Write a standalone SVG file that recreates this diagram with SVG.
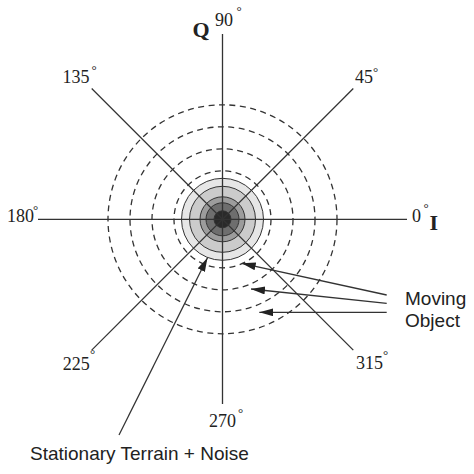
<svg xmlns="http://www.w3.org/2000/svg" width="474" height="474" viewBox="0 0 474 474">
<style>
.ax{stroke:#333;stroke-width:1.3;fill:none}
.ds{stroke:#333;stroke-width:1.3;fill:none;stroke-dasharray:6 4.5}
.rg{stroke:#333;stroke-width:1}
.num{font-family:"Liberation Serif","Times New Roman",serif;font-size:18px;fill:#222}
.deg{font-size:13px}
.bl{font-family:"Liberation Serif","Times New Roman",serif;font-size:22px;font-weight:bold;fill:#222}
.lb{font-family:"Liberation Sans",Arial,sans-serif;font-size:19px;fill:#222}
</style>
<defs>
<marker id="ah" markerUnits="userSpaceOnUse" markerWidth="16" markerHeight="10" refX="14" refY="4" orient="auto">
<path d="M0,0 L14,4 L0,8 Z" fill="#222"/>
</marker>
</defs>
<rect width="474" height="474" fill="#fff"/>
<g id="dashed-rings">
<circle class="ds" cx="222.5" cy="219.3" r="48.5"/>
<circle class="ds" cx="222.5" cy="219.3" r="70.5"/>
<circle class="ds" cx="222.5" cy="219.3" r="92.5"/>
<circle class="ds" cx="222.5" cy="219.3" r="114.5"/>
</g>
<g id="clutter">
<circle class="rg" cx="222.5" cy="219.3" r="41" fill="#e6e6e6"/>
<circle class="rg" cx="222.5" cy="219.3" r="33" fill="#cbcbcb"/>
<circle class="rg" cx="222.5" cy="219.3" r="22.5" fill="#9c9c9c"/>
<circle class="rg" cx="222.5" cy="219.3" r="16.5" fill="#6e6e6e"/>
<circle class="rg" cx="222.5" cy="219.3" r="8.5" fill="#2a2a2a"/>
</g>
<g id="axes">
<line class="ax" x1="222.5" y1="34" x2="222.5" y2="404"/>
<line class="ax" x1="38" y1="219.3" x2="407" y2="219.3"/>
<line class="ax" x1="91.7" y1="88.5" x2="353.3" y2="350.1"/>
<line class="ax" x1="353.3" y1="88.5" x2="91.7" y2="350.1"/>
</g>
<g id="connectors">
<line class="ax" x1="386.7" y1="295" x2="241.7" y2="263.3" marker-end="url(#ah)"/>
<line class="ax" x1="386.7" y1="303.3" x2="251" y2="289" marker-end="url(#ah)"/>
<line class="ax" x1="386.7" y1="312.3" x2="259.3" y2="312.3" marker-end="url(#ah)"/>
<line class="ax" x1="119" y1="435" x2="207.5" y2="257.7" marker-end="url(#ah)"/>
</g>
<g id="angle-labels">
<text class="bl" x="192.5" y="36.7">Q</text>
<text class="num" x="215" y="25.5">90<tspan class="deg" x="236.5" y="15">°</tspan></text>
<text class="num" x="355" y="83">45<tspan class="deg" x="373" y="76">°</tspan></text>
<text class="num" x="62.5" y="83.3">135<tspan class="deg" x="91.5" y="74">°</tspan></text>
<text class="num" x="7" y="222.3">180<tspan class="deg" x="33" y="214">°</tspan></text>
<text class="num" x="412" y="222.3">0<tspan class="deg" x="423.5" y="212">°</tspan></text>
<text class="bl" x="429.5" y="230">I</text>
<text class="num" x="62.7" y="370">225<tspan class="deg" x="90" y="358">°</tspan></text>
<text class="num" x="356" y="369">315<tspan class="deg" x="383" y="359">°</tspan></text>
<text class="num" x="209" y="426.7">270<tspan class="deg" x="238" y="417">°</tspan></text>
</g>
<g id="moving-object">
<text class="lb" x="405" y="305">Moving</text>
<text class="lb" x="405" y="327.3">Object</text>
</g>
<g id="stationary">
<text class="lb" x="30" y="460" font-size="19.5px">Stationary Terrain + Noise</text>
</g>
</svg>
